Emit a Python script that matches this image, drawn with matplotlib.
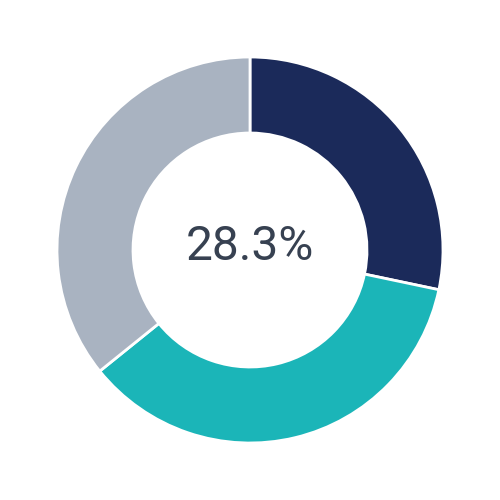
import matplotlib
matplotlib.use("Agg")
import matplotlib.pyplot as plt

labels = ["A", "B", "C"]
values = [28.3, 35.9, 35.8]
colors = ["#1b2a5a", "#1bb5b8", "#a9b3c1"]
center_label = "28.3%"

fig = plt.figure(figsize=(5, 5), dpi=100)
ax = fig.add_axes([0, 0, 1, 1])
outer = 193 / 250
ax.pie(values, colors=colors, startangle=90, counterclock=False, radius=outer,
       wedgeprops=dict(width=outer * (1 - 117 / 193), edgecolor="white", linewidth=2))
ax.text(0, 0.01, center_label, ha="center", va="center", fontsize=34.5,
        color="#374151", family=["Roboto", "DejaVu Sans"])
ax.set_xlim(-1, 1)
ax.set_ylim(-1, 1)
ax.set_aspect("equal")
ax.axis("off")
fig.savefig("out.png", dpi=100, facecolor="white")
